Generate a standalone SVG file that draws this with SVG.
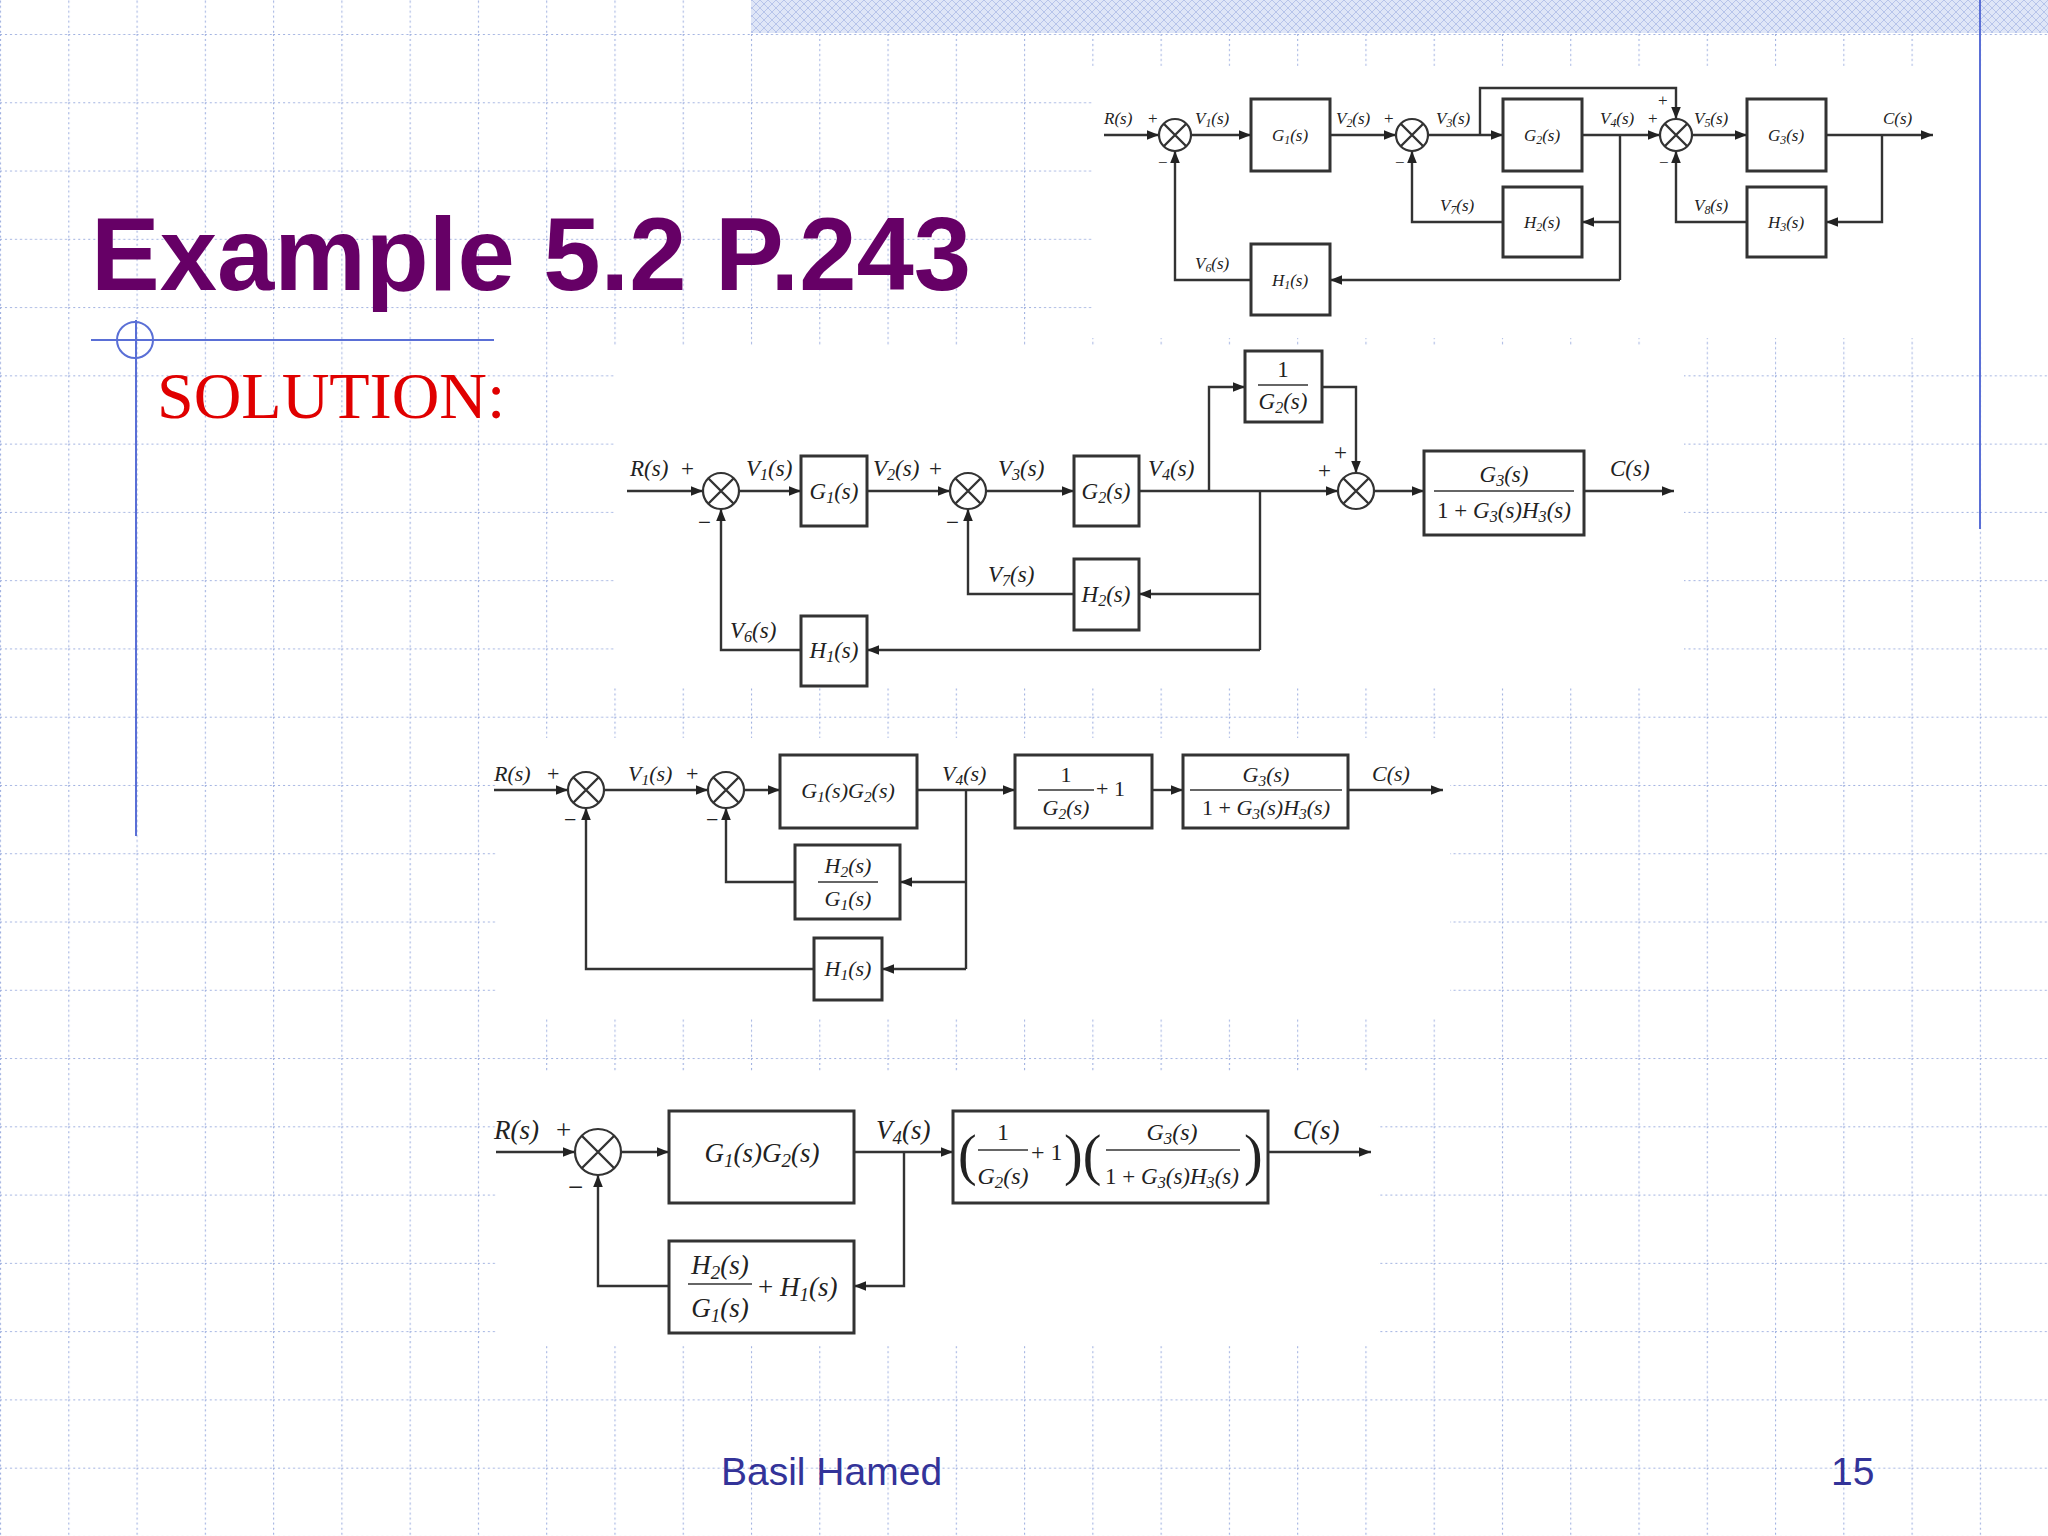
<svg xmlns="http://www.w3.org/2000/svg" width="2048" height="1536" viewBox="0 0 2048 1536">
<defs>
<pattern id="grid" x="0" y="34" width="68.27" height="68.27" patternUnits="userSpaceOnUse">
<path d="M0,0.5 H68.27 M0.5,0 V68.27" stroke="#9fb0e0" stroke-width="1.2" stroke-dasharray="2 3" fill="none"/>
</pattern>
<pattern id="strip" width="8" height="8" patternUnits="userSpaceOnUse">
<rect width="8" height="8" fill="#dfe6f7"/>
<path d="M0,0 L8,8 M8,0 L0,8" stroke="#b7c4ea" stroke-width="1"/>
</pattern>
<marker id="ar" viewBox="0 0 10 10" refX="10" refY="5" markerWidth="5" markerHeight="5" orient="auto" markerUnits="strokeWidth">
<path d="M0,1 L10,5 L0,9 z" fill="#222"/>
</marker>
</defs>
<style>
.w{stroke:#333;stroke-width:2.4;fill:none}
.c{stroke:#333;stroke-width:2.4;fill:none;marker-end:url(#ar)}
.b{stroke:#333;stroke-width:3;fill:#fff}
.s{stroke:#333;stroke-width:2.2;fill:#fff}
.m{font-family:"Liberation Serif",serif;font-style:italic;fill:#222}
.n{font-style:normal}
.sub{font-size:70%;baseline-shift:-25%}
.t1{font-size:17px}.t2{font-size:23px}.t3{font-size:22px}.t4{font-size:27px}
</style>
<rect width="2048" height="1536" fill="#fff"/>
<rect width="2048" height="1536" fill="url(#grid)"/>
<rect x="751" y="0" width="1297" height="33" fill="url(#strip)"/>
<!-- white image backgrounds -->
<rect x="1092" y="66" width="956" height="272" fill="#fff"/>
<rect x="614" y="346" width="1070" height="340" fill="#fff"/>
<rect x="496" y="738" width="954" height="280" fill="#fff"/>
<rect x="496" y="1071" width="882" height="275" fill="#fff"/>
<line x1="1980" y1="0" x2="1980" y2="529" stroke="#5a6fd6" stroke-width="2"/>

<g id="title">
<text x="91" y="290" font-family="Liberation Sans,Arial,sans-serif" font-weight="bold" font-size="103" fill="#660066">Example 5.2 P.243</text>
<line x1="91" y1="340" x2="494" y2="340" stroke="#5a6fd6" stroke-width="2"/>
<line x1="136" y1="320" x2="136" y2="836" stroke="#5a6fd6" stroke-width="2"/>
<circle cx="135" cy="340" r="18" fill="none" stroke="#5a6fd6" stroke-width="2"/>
<line x1="115" y1="340" x2="155" y2="340" stroke="#5a6fd6" stroke-width="2"/>
<text x="157" y="418" font-family="Liberation Serif,serif" font-size="66" fill="#e00000">SOLUTION:</text>
</g>
<g id="footer" font-family="Liberation Sans,Arial,sans-serif" font-size="39" fill="#333399">
<text x="721" y="1485">Basil Hamed</text>
<text x="1831" y="1485">15</text>
</g>

<!-- ============ Diagram 1 ============ -->
<g id="d1-connectors">
<path class="c" d="M1104,135 H1159"/><path class="c" d="M1191,135 H1251"/><path class="c" d="M1330,135 H1396"/>
<path class="c" d="M1428,135 H1503"/><path class="c" d="M1582,135 H1660"/><path class="c" d="M1692,135 H1747"/>
<path class="c" d="M1826,135 H1933"/>
<path class="c" d="M1480,135 V88 H1676 V119"/>
<path class="w" d="M1620,135 V280"/><path class="c" d="M1620,222 H1582"/><path class="c" d="M1503,222 H1412 V151"/>
<path class="c" d="M1620,280 H1330"/><path class="c" d="M1251,280 H1175 V151"/>
<path class="c" d="M1882,135 V222 H1826"/><path class="c" d="M1747,222 H1676 V151"/>
</g>
<g id="d1-nodes" class="m t1">
<g id="d1-sum1"><circle class="s" cx="1175" cy="135" r="16"/><path class="w" d="M1164,124 L1186,146 M1186,124 L1164,146"/></g>
<g id="d1-sum2"><circle class="s" cx="1412" cy="135" r="16"/><path class="w" d="M1401,124 L1423,146 M1423,124 L1401,146"/></g>
<g id="d1-sum3"><circle class="s" cx="1676" cy="135" r="16"/><path class="w" d="M1665,124 L1687,146 M1687,124 L1665,146"/></g>
<g id="d1-G1"><rect class="b" x="1251" y="99" width="79" height="72"/><text x="1290" y="141" text-anchor="middle">G<tspan class="sub">1</tspan>(s)</text></g>
<g id="d1-G2"><rect class="b" x="1503" y="99" width="79" height="72"/><text x="1542" y="141" text-anchor="middle">G<tspan class="sub">2</tspan>(s)</text></g>
<g id="d1-G3"><rect class="b" x="1747" y="99" width="79" height="72"/><text x="1786" y="141" text-anchor="middle">G<tspan class="sub">3</tspan>(s)</text></g>
<g id="d1-H2"><rect class="b" x="1503" y="187" width="79" height="70"/><text x="1542" y="228" text-anchor="middle">H<tspan class="sub">2</tspan>(s)</text></g>
<g id="d1-H3"><rect class="b" x="1747" y="187" width="79" height="70"/><text x="1786" y="228" text-anchor="middle">H<tspan class="sub">3</tspan>(s)</text></g>
<g id="d1-H1"><rect class="b" x="1251" y="244" width="79" height="71"/><text x="1290" y="286" text-anchor="middle">H<tspan class="sub">1</tspan>(s)</text></g>
<g id="d1-labels">
<text x="1104" y="124">R(s)</text><text x="1148" y="124" class="n">+</text><text x="1158" y="168" class="n">−</text>
<text x="1195" y="124">V<tspan class="sub">1</tspan>(s)</text>
<text x="1336" y="124">V<tspan class="sub">2</tspan>(s)</text><text x="1384" y="124" class="n">+</text><text x="1395" y="168" class="n">−</text>
<text x="1436" y="124">V<tspan class="sub">3</tspan>(s)</text>
<text x="1600" y="124">V<tspan class="sub">4</tspan>(s)</text><text x="1648" y="124" class="n">+</text>
<text x="1658" y="106" class="n">+</text><text x="1659" y="168" class="n">−</text>
<text x="1694" y="124">V<tspan class="sub">5</tspan>(s)</text>
<text x="1883" y="124">C(s)</text>
<text x="1440" y="211">V<tspan class="sub">7</tspan>(s)</text>
<text x="1694" y="211">V<tspan class="sub">8</tspan>(s)</text>
<text x="1195" y="269">V<tspan class="sub">6</tspan>(s)</text>
</g>
</g>

<!-- ============ Diagram 2 ============ -->
<g id="d2-connectors">
<path class="c" d="M627,491 H703"/><path class="c" d="M739,491 H801"/><path class="c" d="M867,491 H950"/>
<path class="c" d="M986,491 H1074"/><path class="c" d="M1139,491 H1338"/><path class="c" d="M1374,491 H1424"/>
<path class="c" d="M1584,491 H1674"/>
<path class="c" d="M1209,491 V387 H1245"/><path class="c" d="M1322,387 H1356 V473"/>
<path class="w" d="M1260,491 V650"/><path class="c" d="M1260,650 H867"/><path class="c" d="M1260,594 H1139"/>
<path class="c" d="M1074,594 H968 V509"/><path class="c" d="M801,650 H721 V509"/>
</g>
<g id="d2-nodes" class="m t2">
<g id="d2-sum1"><circle class="s" cx="721" cy="491" r="18"/><path class="w" d="M708,478 L734,504 M734,478 L708,504"/></g>
<g id="d2-sum2"><circle class="s" cx="968" cy="491" r="18"/><path class="w" d="M955,478 L981,504 M981,478 L955,504"/></g>
<g id="d2-sum3"><circle class="s" cx="1356" cy="491" r="18"/><path class="w" d="M1343,478 L1369,504 M1369,478 L1343,504"/></g>
<g id="d2-G1"><rect class="b" x="801" y="456" width="66" height="70"/><text x="834" y="499" text-anchor="middle">G<tspan class="sub">1</tspan>(s)</text></g>
<g id="d2-G2"><rect class="b" x="1074" y="456" width="65" height="70"/><text x="1106" y="499" text-anchor="middle">G<tspan class="sub">2</tspan>(s)</text></g>
<g id="d2-invG2"><rect class="b" x="1245" y="351" width="77" height="71"/><text x="1283" y="377" text-anchor="middle" class="n">1</text><line x1="1258" y1="385" x2="1308" y2="385" stroke="#333" stroke-width="1.6"/><text x="1283" y="409" text-anchor="middle">G<tspan class="sub">2</tspan>(s)</text></g>
<g id="d2-H2"><rect class="b" x="1074" y="559" width="65" height="71"/><text x="1106" y="602" text-anchor="middle">H<tspan class="sub">2</tspan>(s)</text></g>
<g id="d2-H1"><rect class="b" x="801" y="616" width="66" height="70"/><text x="834" y="658" text-anchor="middle">H<tspan class="sub">1</tspan>(s)</text></g>
<g id="d2-G3cl"><rect class="b" x="1424" y="451" width="160" height="84"/><text x="1504" y="482" text-anchor="middle">G<tspan class="sub">3</tspan>(s)</text><line x1="1434" y1="491" x2="1574" y2="491" stroke="#333" stroke-width="1.6"/><text x="1504" y="518" text-anchor="middle"><tspan class="n">1 + </tspan>G<tspan class="sub">3</tspan>(s)H<tspan class="sub">3</tspan>(s)</text></g>
<g id="d2-labels">
<text x="630" y="476">R(s)</text><text x="681" y="476" class="n">+</text><text x="698" y="530" class="n">−</text>
<text x="746" y="476">V<tspan class="sub">1</tspan>(s)</text>
<text x="873" y="476">V<tspan class="sub">2</tspan>(s)</text><text x="929" y="476" class="n">+</text><text x="946" y="530" class="n">−</text>
<text x="998" y="476">V<tspan class="sub">3</tspan>(s)</text>
<text x="1148" y="476">V<tspan class="sub">4</tspan>(s)</text>
<text x="1318" y="478" class="n">+</text><text x="1334" y="460" class="n">+</text>
<text x="1610" y="476">C(s)</text>
<text x="988" y="582">V<tspan class="sub">7</tspan>(s)</text>
<text x="730" y="638">V<tspan class="sub">6</tspan>(s)</text>
</g>
</g>

<!-- ============ Diagram 3 ============ -->
<g id="d3-connectors">
<path class="c" d="M494,790 H568"/><path class="c" d="M604,790 H708"/><path class="c" d="M744,790 H780"/>
<path class="c" d="M917,790 H1015"/><path class="c" d="M1152,790 H1183"/><path class="c" d="M1348,790 H1443"/>
<path class="w" d="M966,790 V969"/><path class="c" d="M966,969 H882"/><path class="c" d="M966,882 H900"/>
<path class="c" d="M795,882 H726 V808"/><path class="c" d="M814,969 H586 V808"/>
</g>
<g id="d3-nodes" class="m t3">
<g id="d3-sum1"><circle class="s" cx="586" cy="790" r="18"/><path class="w" d="M573,777 L599,803 M599,777 L573,803"/></g>
<g id="d3-sum2"><circle class="s" cx="726" cy="790" r="18"/><path class="w" d="M713,777 L739,803 M739,777 L713,803"/></g>
<g id="d3-G1G2"><rect class="b" x="780" y="755" width="137" height="73"/><text x="848" y="798" text-anchor="middle">G<tspan class="sub">1</tspan>(s)G<tspan class="sub">2</tspan>(s)</text></g>
<g id="d3-invG2p1"><rect class="b" x="1015" y="755" width="137" height="73"/><text x="1066" y="782" text-anchor="middle" class="n">1</text><line x1="1038" y1="790" x2="1094" y2="790" stroke="#333" stroke-width="1.6"/><text x="1066" y="815" text-anchor="middle">G<tspan class="sub">2</tspan>(s)</text><text x="1096" y="796" class="n">+ 1</text></g>
<g id="d3-G3cl"><rect class="b" x="1183" y="755" width="165" height="73"/><text x="1266" y="782" text-anchor="middle">G<tspan class="sub">3</tspan>(s)</text><line x1="1190" y1="790" x2="1342" y2="790" stroke="#333" stroke-width="1.6"/><text x="1266" y="815" text-anchor="middle"><tspan class="n">1 + </tspan>G<tspan class="sub">3</tspan>(s)H<tspan class="sub">3</tspan>(s)</text></g>
<g id="d3-H2G1"><rect class="b" x="795" y="845" width="105" height="74"/><text x="848" y="873" text-anchor="middle">H<tspan class="sub">2</tspan>(s)</text><line x1="818" y1="882" x2="878" y2="882" stroke="#333" stroke-width="1.6"/><text x="848" y="906" text-anchor="middle">G<tspan class="sub">1</tspan>(s)</text></g>
<g id="d3-H1"><rect class="b" x="814" y="938" width="68" height="62"/><text x="848" y="976" text-anchor="middle">H<tspan class="sub">1</tspan>(s)</text></g>
<g id="d3-labels">
<text x="494" y="781">R(s)</text><text x="547" y="781" class="n">+</text><text x="564" y="827" class="n">−</text>
<text x="628" y="781">V<tspan class="sub">1</tspan>(s)</text><text x="686" y="781" class="n">+</text><text x="706" y="827" class="n">−</text>
<text x="942" y="781">V<tspan class="sub">4</tspan>(s)</text>
<text x="1372" y="781">C(s)</text>
</g>
</g>

<!-- ============ Diagram 4 ============ -->
<g id="d4-connectors">
<path class="c" d="M496,1152 H575"/><path class="c" d="M621,1152 H669"/><path class="c" d="M854,1152 H953"/>
<path class="c" d="M1268,1152 H1371"/>
<path class="c" d="M904,1152 V1286 H854"/><path class="c" d="M669,1286 H598 V1175"/>
</g>
<g id="d4-nodes" class="m t4">
<g id="d4-sum"><circle class="s" cx="598" cy="1152" r="23"/><path class="w" d="M582,1136 L614,1168 M614,1136 L582,1168"/></g>
<g id="d4-G1G2"><rect class="b" x="669" y="1111" width="185" height="92"/><text x="762" y="1162" text-anchor="middle">G<tspan class="sub">1</tspan>(s)G<tspan class="sub">2</tspan>(s)</text></g>
<g id="d4-fwd"><rect class="b" x="953" y="1111" width="315" height="92"/>
<text x="958" y="1174" font-size="56" class="n">(</text>
<text x="1003" y="1140" text-anchor="middle" class="n" font-size="24">1</text><line x1="978" y1="1150" x2="1028" y2="1150" stroke="#333" stroke-width="1.6"/><text x="1003" y="1184" text-anchor="middle" font-size="24">G<tspan class="sub">2</tspan>(s)</text>
<text x="1031" y="1160" class="n" font-size="24">+ 1</text>
<text x="1064" y="1174" font-size="56" class="n">)(</text>
<text x="1172" y="1140" text-anchor="middle" font-size="24">G<tspan class="sub">3</tspan>(s)</text><line x1="1106" y1="1150" x2="1240" y2="1150" stroke="#333" stroke-width="1.6"/><text x="1172" y="1184" text-anchor="middle" font-size="23"><tspan class="n">1 + </tspan>G<tspan class="sub">3</tspan>(s)H<tspan class="sub">3</tspan>(s)</text>
<text x="1244" y="1174" font-size="56" class="n">)</text></g>
<g id="d4-fb"><rect class="b" x="669" y="1241" width="185" height="92"/><text x="720" y="1274" text-anchor="middle">H<tspan class="sub">2</tspan>(s)</text><line x1="688" y1="1284" x2="752" y2="1284" stroke="#333" stroke-width="1.6"/><text x="720" y="1317" text-anchor="middle">G<tspan class="sub">1</tspan>(s)</text><text x="758" y="1296"><tspan class="n">+ </tspan>H<tspan class="sub">1</tspan>(s)</text></g>
<g id="d4-labels">
<text x="494" y="1139">R(s)</text><text x="556" y="1139" class="n">+</text><text x="568" y="1196" class="n">−</text>
<text x="876" y="1139">V<tspan class="sub">4</tspan>(s)</text>
<text x="1293" y="1139">C(s)</text>
</g>
</g>
</svg>
